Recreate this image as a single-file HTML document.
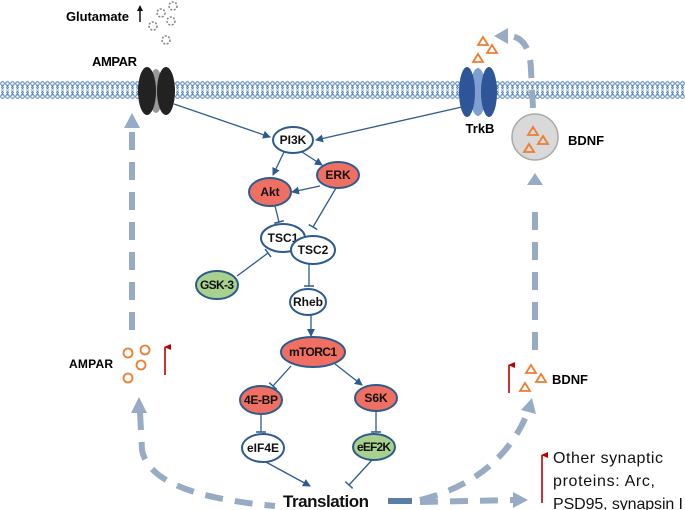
<!DOCTYPE html>
<html><head><meta charset="utf-8"><style>
html,body{margin:0;padding:0;background:#fff;}
svg{display:block;font-family:"Liberation Sans",sans-serif;}
.n{stroke:#2d5b8e;stroke-width:2;}
.t{font-weight:bold;font-size:12px;text-anchor:middle;fill:#111;}
.l{stroke:#2d5b8e;stroke-width:1.3;fill:none;}
.d{stroke:#97acc4;stroke-width:6;fill:none;stroke-dasharray:18 12;}
</style></head><body>
<svg width="685" height="510" viewBox="0 0 685 510" xmlns="http://www.w3.org/2000/svg">
<defs>
<pattern id="mem" x="0" y="81" width="5" height="18" patternUnits="userSpaceOnUse">
<circle cx="2.5" cy="2.5" r="1.8" fill="none" stroke="#4d80b5" stroke-width="1"/>
<circle cx="2.5" cy="15.5" r="1.8" fill="none" stroke="#4d80b5" stroke-width="1"/>
<path d="M1.5 4.5 L3.5 6.5 L1.5 8.5 M3.5 4.5 L1.5 6.5 L3.5 8.5 M1.5 9.5 L3.5 11.5 L1.5 13.5 M3.5 9.5 L1.5 11.5 L3.5 13.5" stroke="#4d80b5" stroke-width="0.8" fill="none"/>
</pattern>
<marker id="a" markerWidth="8" markerHeight="8" refX="7" refY="4" orient="auto" markerUnits="userSpaceOnUse"><path d="M0 0 L8 4 L0 8 Z" fill="#2d5b8e"/></marker>
<marker id="b" markerWidth="2" markerHeight="10" refX="1" refY="5" orient="auto" markerUnits="userSpaceOnUse"><path d="M1 0 L1 10" stroke="#2d5b8e" stroke-width="1.5"/></marker>
<marker id="r" markerWidth="8" markerHeight="8" refX="3" refY="1" orient="auto" markerUnits="userSpaceOnUse"><path d="M0 7 L3 0 L6 7 Z" fill="#c00000"/></marker>
</defs>
<rect x="0" y="81" width="685" height="18" fill="url(#mem)"/>

<text x="66" y="21" font-size="13" font-weight="bold" textLength="63">Glutamate</text>
<path d="M140 22 L140 9" stroke="#111" stroke-width="1.5"/><path d="M137 11 L140 5 L143 11 Z" fill="#111"/>
<g fill="none" stroke="#888" stroke-width="1.6" stroke-dasharray="2 1.5">
<circle cx="173" cy="6" r="4"/><circle cx="161" cy="13" r="4"/><circle cx="171" cy="21" r="4"/><circle cx="153" cy="26" r="4"/><circle cx="166" cy="40" r="4"/></g>

<text x="92" y="66" font-size="13" font-weight="bold" textLength="45">AMPAR</text>
<ellipse cx="156" cy="91" rx="7" ry="22" fill="#999"/>
<ellipse cx="147" cy="91" rx="9" ry="24" fill="#222"/>
<ellipse cx="166" cy="91" rx="9" ry="24" fill="#222"/>

<ellipse cx="478" cy="92" rx="8" ry="24" fill="#7e9fcf"/>
<ellipse cx="467" cy="92" rx="8" ry="25" fill="#2d5597"/>
<ellipse cx="489" cy="92" rx="8" ry="25" fill="#2d5597"/>
<text x="480" y="133" font-size="13" font-weight="bold" text-anchor="middle">TrkB</text>
<g fill="none" stroke="#ed7d31" stroke-width="1.8">
<path d="M483 37 L488 45 L478 45 Z"/><path d="M492 45 L497 53 L487 53 Z"/><path d="M478 54 L483 62 L473 62 Z"/>
<path d="M531 365 L536 373 L526 373 Z"/><path d="M541 374 L546 382 L536 382 Z"/><path d="M525 383 L530 391 L520 391 Z"/>
</g>
<circle cx="535" cy="137" r="23" fill="#d9d9d9" stroke="#aaa" stroke-width="1.5"/>
<g fill="none" stroke="#ed7d31" stroke-width="1.8">
<path d="M533 127 L538 135 L528 135 Z"/><path d="M543 136 L548 144 L538 144 Z"/><path d="M529 144 L534 152 L524 152 Z"/></g>
<text x="568" y="145" font-size="13" font-weight="bold">BDNF</text>

<path class="d" d="M533 108 L531 70 Q530 38 510 36"/>
<path d="M508 28 L494 36 L508 44 Z" fill="#97acc4"/>
<path class="d" d="M535 350 L535 200" stroke-dasharray="20 12"/>
<path d="M527 185 L535 173 L543 185 Z" fill="#97acc4"/>
<path class="d" d="M132 330 L132 128"/>
<path d="M124 128 L132 113 L140 128 Z" fill="#97acc4"/>
<path class="d" d="M140 412 L142 450 Q150 495 275 506"/>
<path d="M131 413 L139 397 L147 413 Z" fill="#97acc4"/>
<path class="d" d="M420 500 Q500 480 528 412"/>
<path d="M521 410 L532 398 L536 414 Z" fill="#97acc4"/>
<path class="d" d="M420 502 L515 500"/>
<path d="M513 492 L528 500 L513 508 Z" fill="#97acc4"/>
<path d="M388 501 L412 501" stroke="#5b7ea6" stroke-width="6"/>

<text x="69" y="368" font-size="12" font-weight="bold" textLength="44">AMPAR</text>
<g fill="none" stroke="#ed7d31" stroke-width="1.8">
<circle cx="128" cy="353" r="4.5"/><circle cx="145" cy="350" r="4.5"/><circle cx="141" cy="365" r="4.5"/><circle cx="128" cy="378" r="4.5"/></g>
<path d="M165 375 L165 347" stroke="#c00000" stroke-width="1.6" marker-end="url(#r)"/>
<path d="M509 393 L509 365" stroke="#c00000" stroke-width="1.6" marker-end="url(#r)"/>
<text x="552" y="384" font-size="13" font-weight="bold" textLength="36">BDNF</text>
<path d="M542 503 L542 455" stroke="#c00000" stroke-width="1.6" marker-end="url(#r)"/>
<g font-size="16" fill="#111"><text x="553" y="463" textLength="110">Other synaptic</text><text x="553" y="486" textLength="102">proteins: Arc,</text><text x="553" y="509" textLength="130">PSD95, synapsin I</text></g>

<path class="l" d="M174 104 L270 137" marker-end="url(#a)"/>
<path class="l" d="M462 107 L316 140" marker-end="url(#a)"/>
<path class="l" d="M284 152 L273 175" marker-end="url(#a)"/>
<path class="l" d="M302 152 L322 165" marker-end="url(#a)"/>
<path class="l" d="M320 186 L292 192" marker-end="url(#a)"/>
<path class="l" d="M275 206 L279 222" marker-end="url(#b)"/>
<path class="l" d="M336 188 L313 227" marker-end="url(#b)"/>
<path class="l" d="M237 276 L268 253" marker-end="url(#b)"/>
<path class="l" d="M309 264 L309 286" marker-end="url(#b)"/>
<path class="l" d="M311 315 L311 336" marker-end="url(#a)"/>
<path class="l" d="M291 366 L273 386" marker-end="url(#b)"/>
<path class="l" d="M335 364 L362 385" marker-end="url(#a)"/>
<path class="l" d="M261 414 L261 432" marker-end="url(#b)"/>
<path class="l" d="M376 411 L376 432" marker-end="url(#b)"/>
<path class="l" d="M264 461 L310 486" marker-end="url(#a)"/>
<path class="l" d="M372 460 L349 485" marker-end="url(#b)"/>

<ellipse class="n" cx="293" cy="140" rx="20" ry="13" fill="#fff"/><text class="t" x="293" y="144">PI3K</text>
<ellipse class="n" cx="338" cy="175" rx="21" ry="13" fill="#ef6f62"/><text class="t" x="338" y="179">ERK</text>
<ellipse class="n" cx="270" cy="192" rx="21" ry="14" fill="#ef6f62"/><text class="t" x="270" y="196">Akt</text>
<ellipse class="n" cx="283" cy="238" rx="22" ry="14" fill="#fff"/><text class="t" x="283" y="242">TSC1</text>
<ellipse class="n" cx="313" cy="250" rx="22" ry="14" fill="#fff"/><text class="t" x="313" y="254">TSC2</text>
<ellipse class="n" cx="217" cy="285" rx="21" ry="14" fill="#a9d18e"/><text class="t" x="217" y="289" textLength="34">GSK-3</text>
<ellipse class="n" cx="308" cy="302" rx="18" ry="13" fill="#fff"/><text class="t" x="308" y="306">Rheb</text>
<ellipse class="n" cx="313" cy="352" rx="32" ry="15" fill="#ef6f62"/><text class="t" x="313" y="356" textLength="48">mTORC1</text>
<ellipse class="n" cx="261" cy="400" rx="21" ry="14" fill="#ef6f62"/><text class="t" x="261" y="404" textLength="34">4E-BP</text>
<ellipse class="n" cx="376" cy="398" rx="21" ry="13" fill="#ef6f62"/><text class="t" x="376" y="402">S6K</text>
<ellipse class="n" cx="263" cy="448" rx="21" ry="14" fill="#fff"/><text class="t" x="263" y="452" textLength="32">eIF4E</text>
<ellipse class="n" cx="374" cy="447" rx="21" ry="13" fill="#a9d18e"/><text class="t" x="374" y="451" textLength="34">eEF2K</text>

<text x="326" y="507" font-size="17" font-weight="bold" text-anchor="middle" fill="#111" textLength="86">Translation</text>
</svg>
</body></html>
